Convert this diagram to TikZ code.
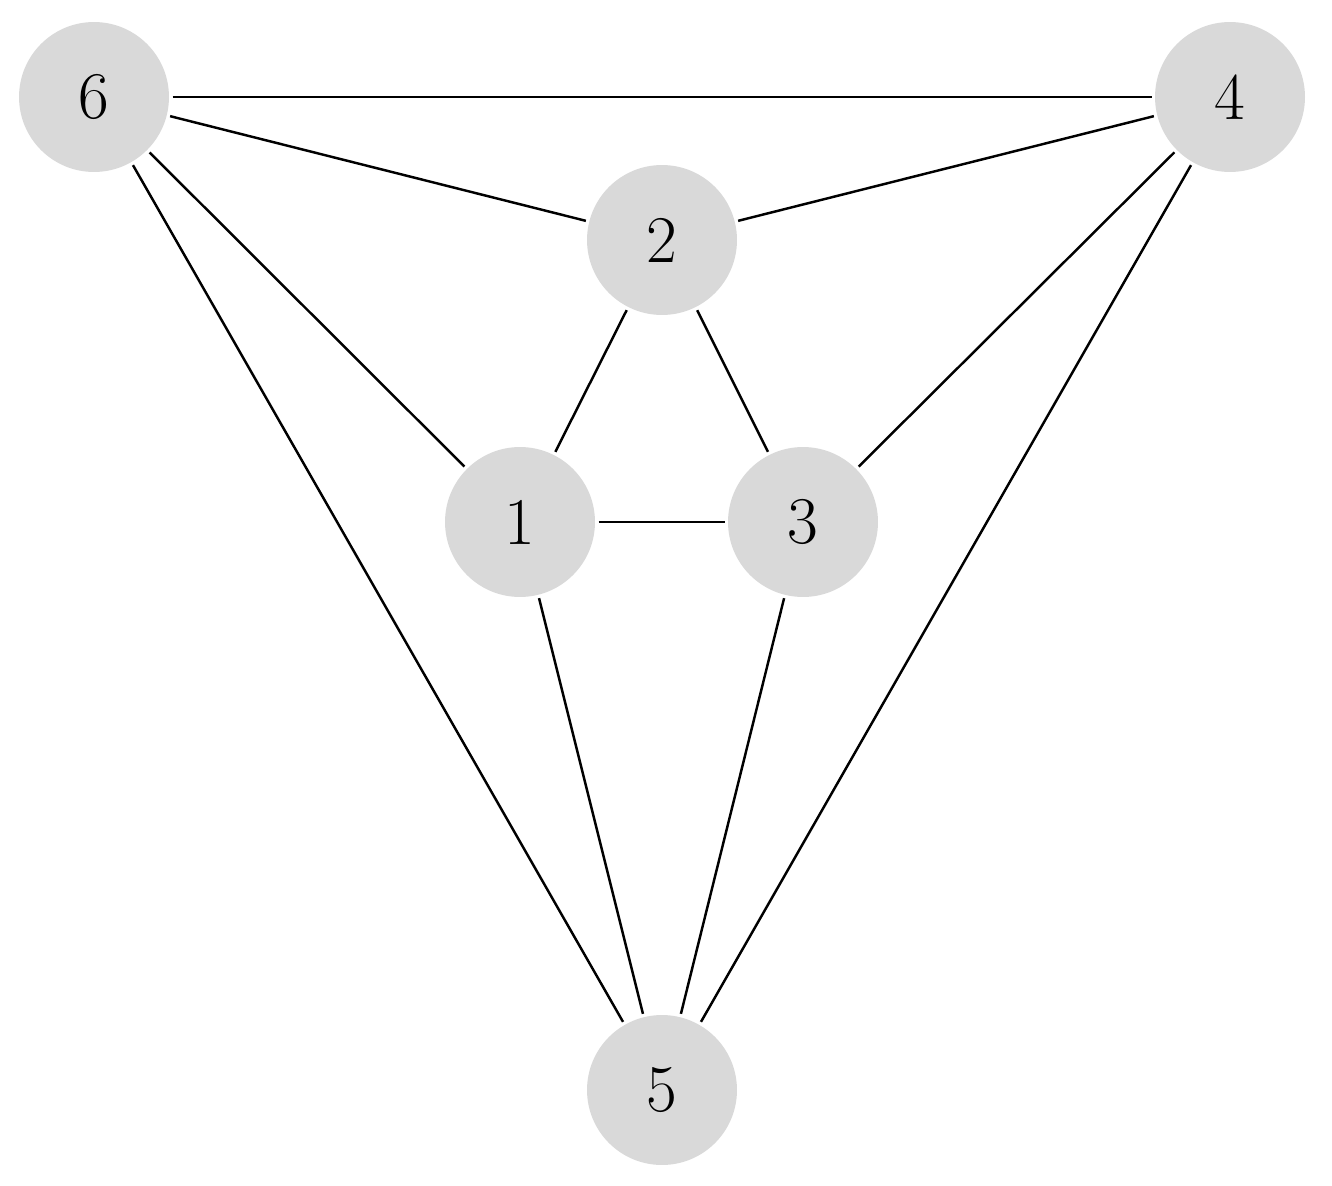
\documentclass[tikz,border=0pt]{standalone}
\begin{document}
\begin{tikzpicture}[x=0.02cm,y=-0.02cm,
  vert/.style={circle,fill=black!15,minimum size=3cm,inner sep=0pt,outer sep=2pt,font=\fontsize{38}{40}\selectfont},
  edge/.style={line width=1.4pt}]
\useasboundingbox (0,0) rectangle (1332,1186);
\node[vert] (6) at (94,97) {6};
\node[vert] (4) at (1230,97) {4};
\node[vert] (2) at (662,240) {2};
\node[vert] (1) at (520,522) {1};
\node[vert] (3) at (803,522) {3};
\node[vert] (5) at (662,1090) {5};
\foreach \a/\b in {6/4,6/2,6/1,6/5,4/2,4/3,4/5,2/1,2/3,1/3,1/5,3/5}
  \draw[edge] (\a) -- (\b);
\end{tikzpicture}
\end{document}
